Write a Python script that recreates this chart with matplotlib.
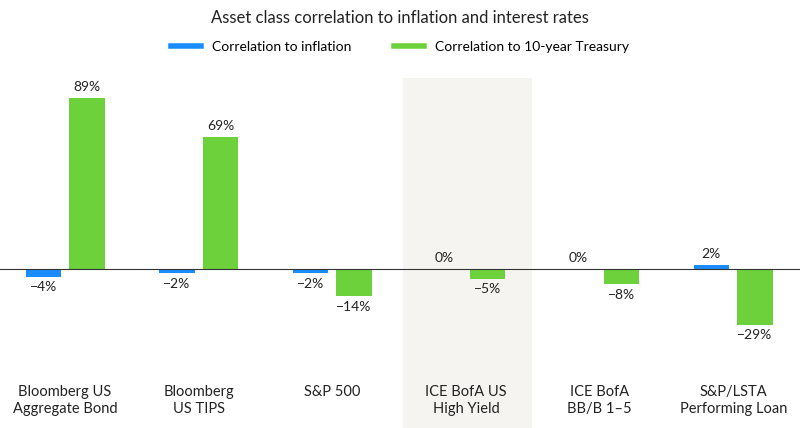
import matplotlib
matplotlib.use('Agg')
import matplotlib.pyplot as plt
import matplotlib.transforms as mtransforms
from matplotlib.patches import Rectangle
from matplotlib.lines import Line2D
import numpy as np

categories = ["Bloomberg US\nAggregate Bond", "Bloomberg\nUS TIPS", "S&P 500",
              "ICE BofA US\nHigh Yield", "ICE BofA\nBB/B 1\u20135", "S&P/LSTA\nPerforming Loan"]
inflation = [-4, -2, -2, 0, 0, 2]
treasury = [89, 69, -14, -5, -8, -29]

blue = "#1a8cff"
green = "#6dd13b"
plt.rcParams['font.family'] = ['Lato', 'DejaVu Sans']

fig = plt.figure(figsize=(8, 4.28), dpi=100, facecolor='white')
ax = fig.add_axes([0, (428 - 360) / 428, 1, (360 - 78) / 428])
ax.patch.set_alpha(0)

# highlight band behind ICE BofA US High Yield
trans = mtransforms.blended_transform_factory(ax.transData, fig.transFigure)
ax.add_patch(Rectangle((2.53, 0), 0.965, (428 - 78) / 428, transform=trans,
                       facecolor='#f6f4f1', edgecolor='none', zorder=0, clip_on=False))

x = np.arange(len(categories))
off = 0.163
w = 0.265
ax.bar(x - off, inflation, w, color=blue, zorder=2)
ax.bar(x + off, treasury, w, color=green, zorder=2)
ax.axhline(0, color='#333333', lw=0.8, zorder=3)

def fmt(v):
    return f"{v}%" if v >= 0 else f"\u2212{abs(v)}%"

for xs, vals in ((x - off, inflation), (x + off, treasury)):
    for xi, v in zip(xs, vals):
        if v >= 0:
            ax.text(xi, v + 2.5, fmt(v), ha='center', va='bottom', fontsize=10, color='#222222')
        else:
            ax.text(xi, v - 2.5, fmt(v), ha='center', va='top', fontsize=10, color='#222222')

ax.set_xlim(-0.487, 5.50)
ax.set_ylim(-47.4, 99.5)
ax.set_xticks(x)
ax.set_xticklabels(categories, fontsize=10.5, color='#222222', linespacing=1.25)
ax.tick_params(axis='x', length=0, pad=18)
ax.set_yticks([])
for s in ax.spines.values():
    s.set_visible(False)

fig.text(0.5, 1 - 18 / 428, "Asset class correlation to inflation and interest rates",
         ha='center', va='center', fontsize=12, color='#222222')
handles = [Line2D([0], [0], color=blue, lw=4), Line2D([0], [0], color=green, lw=4)]
fig.legend(handles, ["Correlation to inflation", "Correlation to 10-year Treasury"],
           loc='center', bbox_to_anchor=(0.5, 1 - 47 / 428), ncol=2, frameon=False,
           fontsize=10, handlelength=2.2, columnspacing=3)

fig.savefig("out.png", dpi=100, facecolor='white')
